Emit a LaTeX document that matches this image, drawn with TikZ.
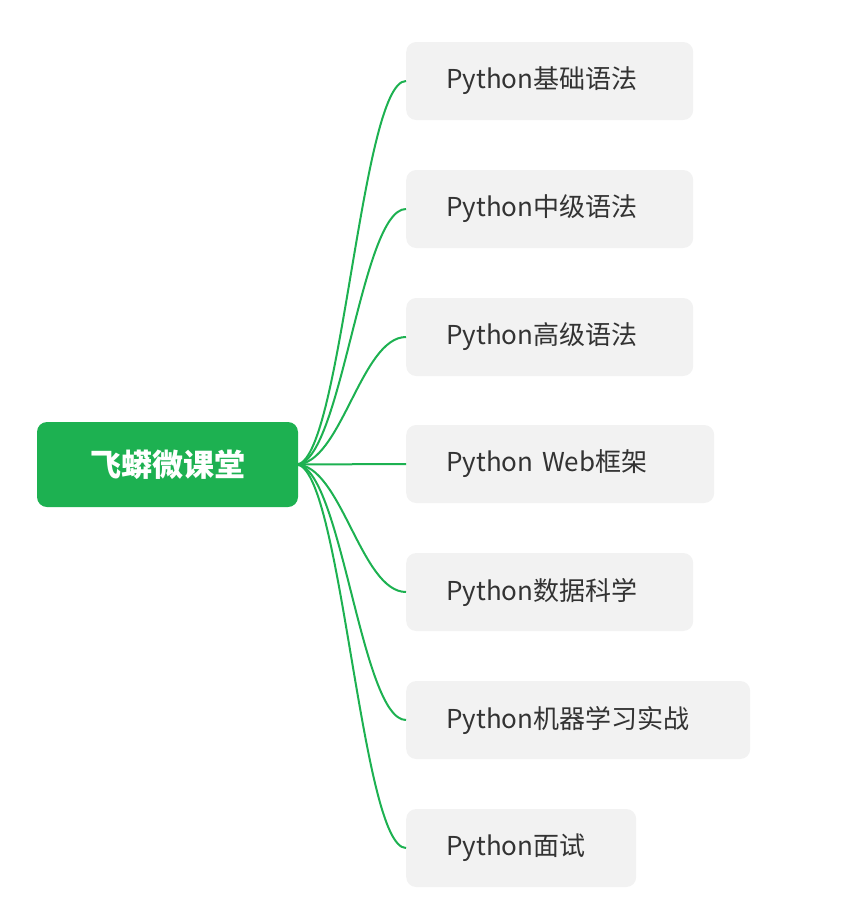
\documentclass[tikz,border=0pt]{standalone}
\usepackage{fontspec}
\setmainfont{Noto Sans CJK SC}
\definecolor{gr}{HTML}{1DB151}
\definecolor{bx}{HTML}{F2F2F2}
\definecolor{tx}{HTML}{333333}
\begin{document}
\begin{tikzpicture}[x=1pt,y=-1pt,
  rootbox/.style={fill=gr,rounded corners=10pt,text=white,font=\fontsize{31}{36}\selectfont\bfseries,minimum height=85pt,minimum width=261pt,inner sep=0pt},
  child/.style={fill=bx,rounded corners=10pt,text=tx,font=\fontsize{26}{30}\selectfont,minimum height=78pt,anchor=west,inner xsep=40pt,inner ysep=0pt,text width=#1-80pt,align=left},
  link/.style={draw=gr,line width=2pt}]
\useasboundingbox (0,0) rectangle (844,924);
\node[rootbox] (root) at (167.5,464.5) {飞蟒微课堂};
\node[child=287pt] (c1) at (406,81) {Python基础语法};
\node[child=287pt] (c2) at (406,209) {Python中级语法};
\node[child=287pt] (c3) at (406,337) {Python高级语法};
\node[child=308pt] (c4) at (406,464) {Python Web框架};
\node[child=287pt] (c5) at (406,592) {Python数据科学};
\node[child=344pt] (c6) at (406,720) {Python机器学习实战};
\node[child=230pt] (c7) at (406,848) {Python面试};
\foreach \c in {c1,c2,c3,c4,c5,c6,c7}
  \draw[link] ([xshift=-2pt]root.east) .. controls +(45,0) and +(-45,0) .. (\c.west);
\end{tikzpicture}
\end{document}
